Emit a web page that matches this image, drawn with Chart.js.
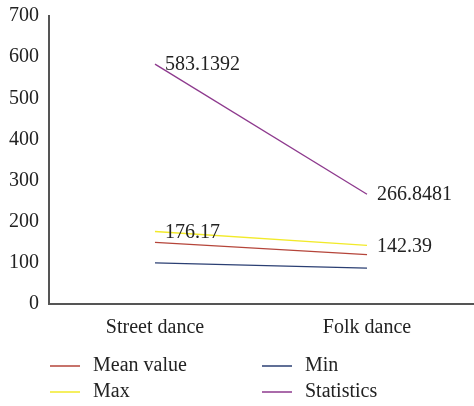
<!DOCTYPE html>
<html><head><meta charset="utf-8">
<script src="https://cdn.jsdelivr.net/npm/chart.js@4"></script>
<style>html,body{margin:0;padding:0;background:#fff;}#w{position:relative;width:474px;height:406px;}</style>
</head><body><div id="w"><canvas id="c" width="474" height="406"></canvas></div>
<script>
const categories = ["Street dance", "Folk dance"];
const meanValue = [150, 120];
const maxValue = [176.17, 142.39];
const minValue = [100, 87];
const statistics = [583.1392, 266.8481];
const labelSeries = {1: ["176.17", "142.39"], 3: ["583.1392", "266.8481"]};
const legendItems = [["Mean value","#b5453a"],["Min","#2b3f73"],["Max","#f2ea2a"],["Statistics","#8e3a8e"]];
const FONT = "'Liberation Serif', serif";

const plugin = {
  id: 'extras',
  afterDatasetsDraw(chart) {
    const ctx = chart.ctx;
    ctx.save();
    ctx.font = "20px " + FONT;
    ctx.fillStyle = "#222";
    ctx.textBaseline = "middle";
    ctx.textAlign = "left";
    for (const k in labelSeries) {
      chart.getDatasetMeta(+k).data.forEach((p, i) => ctx.fillText(labelSeries[k][i], p.x + 10, p.y + 1));
    }
    legendItems.forEach((it, i) => {
      const col = i % 2, row = Math.floor(i / 2);
      const x = col ? 262 : 50, y = 366 + row * 26;
      ctx.strokeStyle = it[1]; ctx.lineWidth = 1.5;
      ctx.beginPath(); ctx.moveTo(x, y); ctx.lineTo(x + 30, y); ctx.stroke();
      ctx.fillText(it[0], x + 43, y);
    });
    ctx.restore();
  }
};

new Chart(document.getElementById('c'), {
  type: 'line',
  data: {
    labels: categories,
    datasets: [
      {label: "Mean value", data: meanValue, borderColor: "#b5453a"},
      {label: "Max", data: maxValue, borderColor: "#f2ea2a"},
      {label: "Min", data: minValue, borderColor: "#2b3f73"},
      {label: "Statistics", data: statistics, borderColor: "#8e3a8e"}
    ].map(d => Object.assign(d, {borderWidth: 1.3, pointRadius: 0, tension: 0, fill: false}))
  },
  options: {
    responsive: false, animation: false,
    layout: {padding: {top: 5, right: 1, bottom: 62, left: 0}},
    plugins: {legend: {display: false}, tooltip: {enabled: false}},
    scales: {
      x: {offset: true,
          grid: {display: false, drawTicks: true, tickLength: 8, color: "#555", offset: true},
          border: {color: "#555", width: 2},
          ticks: {color: "#222", font: {family: FONT, size: 20}, padding: 4}},
      y: {min: 0, max: 700,
          afterFit(s) { s.width = 49; },
          grid: {display: false, drawTicks: true, tickLength: 6},
          border: {color: "#555", width: 2},
          ticks: {stepSize: 100, color: "#222", font: {family: FONT, size: 20}, padding: 4}}
    }
  },
  plugins: [plugin]
});
</script></body></html>
